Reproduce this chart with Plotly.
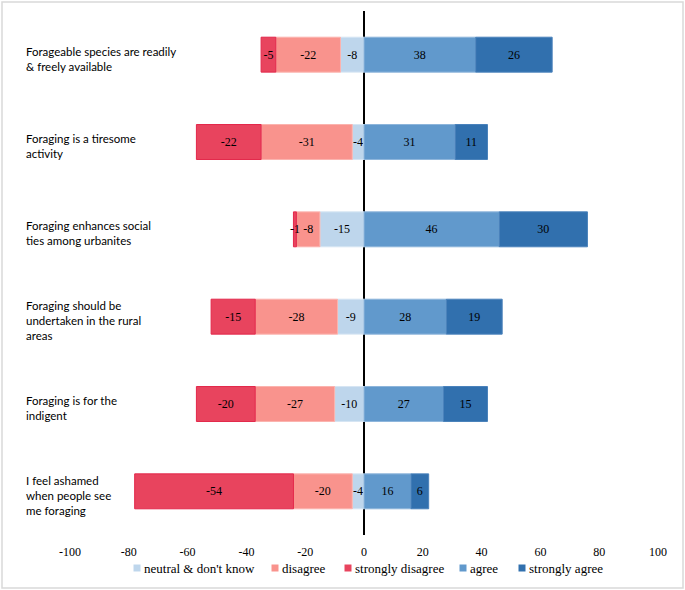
import plotly.graph_objects as go

# Daten
statements = ["Forageable species are readily<br>& freely available",
              "Foraging is a tiresome<br>activity",
              "Foraging enhances social<br>ties among urbanites",
              "Foraging should be<br>undertaken in the rural<br>areas",
              "Foraging is for the<br>indigent",
              "I feel ashamed<br>when people see<br>me foraging"]
rows = ["r1", "r2", "r3", "r4", "r5", "r6"]

neutral = [-8, -4, -15, -9, -10, -4]
disagree = [-22, -31, -8, -28, -27, -20]
strongly_disagree = [-5, -22, -1, -15, -20, -54]
agree = [38, 31, 46, 28, 27, 16]
strongly_agree = [26, 11, 30, 19, 15, 6]

tick_vals = [-100, -80, -60, -40, -20, 0, 20, 40, 60, 80, 100]
tick_text = ["-100", "-80", "-60", "-40", "-20", "0", "20", "40", "60", "80", "100"]

series = [("neutral & don't know", neutral, "#BED6EC", "#D6E5F3"),
          ("disagree", disagree, "#F9938D", "#FBB3AE"),
          ("strongly disagree", strongly_disagree, "#E8445E", "#E3274A"),
          ("agree", agree, "#6199CC", "#8DB5DB"),
          ("strongly agree", strongly_agree, "#3170AE", "#4A82BB")]

# Legendenpositionen (Pixel, Mitte des Quadrats)
legend_px = [137, 275, 348, 463, 522]

W, H = 685, 590
L, R, T, B = 70, 27, 11, 55
pw, ph = W - L - R, H - T - B

fig = go.Figure()
for name, vals, col, edge in series:
    fig.add_trace(go.Bar(y=rows, x=vals, name=name, orientation="h",
                         marker=dict(color=col, line=dict(color=edge, width=1)),
                         text=[str(v) for v in vals], textposition="inside",
                         insidetextanchor="middle",
                         textfont=dict(family="Liberation Serif", size=12, color="black"),
                         width=0.4, showlegend=False))

# Beschriftung links
for r, s in zip(rows, statements):
    fig.add_annotation(x=-0.078, xref="paper", y=r, yref="y", yshift=-4, text=s,
                       showarrow=False, xanchor="left", yanchor="middle", align="left",
                       font=dict(family="Lato", size=11.5, color="black"))

# Legende unten
ly = (T + ph - 568) / ph
for (name, vals, col, edge), px in zip(series, legend_px):
    cx = (px - L) / pw
    fig.add_shape(type="rect", xref="paper", yref="paper",
                  x0=cx - 3.5 / pw, x1=cx + 3.5 / pw,
                  y0=ly - 3.5 / ph, y1=ly + 3.5 / ph,
                  fillcolor=col, line=dict(width=0))
    fig.add_annotation(x=cx + 5 / pw, xref="paper", y=ly, yref="paper", text=name,
                       showarrow=False, xanchor="left", yanchor="middle",
                       font=dict(family="Liberation Serif", size=13, color="black"))

# Rahmen
fig.add_shape(type="rect", xref="paper", yref="paper",
              x0=(2 - L) / pw, x1=(683 - L) / pw,
              y0=(T + ph - 588) / ph, y1=(T + ph - 2) / ph,
              line=dict(color="#D9D9D9", width=1.5))

fig.update_layout(width=W, height=H, barmode="relative",
                  margin=dict(l=L, r=R, t=T, b=B),
                  plot_bgcolor="white", paper_bgcolor="white",
                  uniformtext_minsize=12, uniformtext_mode="show",
                  showlegend=False)
fig.update_xaxes(range=[-100, 100], tickvals=tick_vals, ticktext=tick_text,
                 showgrid=False, zeroline=True, ticklabelstandoff=8,
                 zerolinecolor="black", zerolinewidth=1.5, showline=False,
                 tickfont=dict(family="Liberation Serif", size=12, color="black"))
fig.update_yaxes(autorange="reversed", showticklabels=False, showgrid=False,
                 showline=False)

fig.write_html("out.html", config={"displayModeBar": False},
               post_script="document.body.style.margin='0px';")
